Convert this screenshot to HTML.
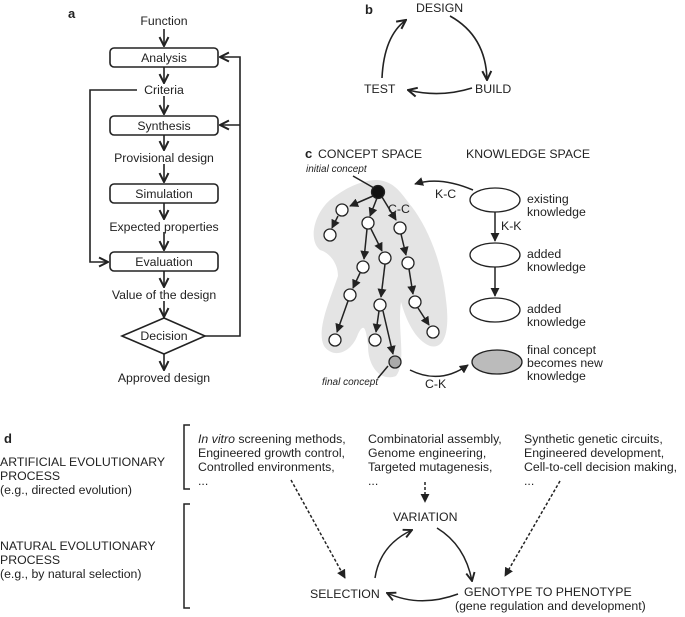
<!DOCTYPE html>
<html><head><meta charset="utf-8"><style>
body{margin:0;background:#fff}
svg{display:block;font-family:"Liberation Sans",Arial,sans-serif;font-size:12px;fill:#222}
</style></head><body>
<svg width="685" height="617" viewBox="0 0 685 617" xmlns="http://www.w3.org/2000/svg">
<defs>
<marker id="ar" viewBox="0 0 10 10" refX="9" refY="5" markerWidth="7" markerHeight="7" orient="auto-start-reverse"><path d="M1,1 L9,5 L1,9" fill="none" stroke="#222" stroke-width="1.8"/></marker>
<marker id="af" viewBox="0 0 10 10" refX="9" refY="5" markerWidth="6" markerHeight="6" orient="auto"><path d="M0,0 L10,5 L0,10 Z" fill="#222"/></marker>
</defs>
<g stroke="#222" stroke-width="1.6" fill="none">
<rect x="110" y="48" width="108" height="19" rx="4"/>
<rect x="110" y="116" width="108" height="19" rx="4"/>
<rect x="110" y="184" width="108" height="19" rx="4"/>
<rect x="110" y="252" width="108" height="19" rx="4"/>
<path d="M122,336 L164,318 L205,336 L164,354 Z"/>
<path d="M164,29 V46" marker-end="url(#ar)"/>
<path d="M164,67 V83" marker-end="url(#ar)"/>
<path d="M164,96 V114" marker-end="url(#ar)"/>
<path d="M164,135 V150" marker-end="url(#ar)"/>
<path d="M164,164 V182" marker-end="url(#ar)"/>
<path d="M164,203 V219" marker-end="url(#ar)"/>
<path d="M164,232 V250" marker-end="url(#ar)"/>
<path d="M164,271 V287" marker-end="url(#ar)"/>
<path d="M164,301 V317" marker-end="url(#ar)"/>
<path d="M164,354 V370" marker-end="url(#ar)"/>
<path d="M205,336 H240 V57 H220" marker-end="url(#ar)"/>
<path d="M240,125 H220" marker-end="url(#ar)"/>
<path d="M137,90 H90 V262 H108" marker-end="url(#ar)"/>
<path d="M450,16 Q486,36 487,80" marker-end="url(#ar)"/>
<path d="M472,88 Q440,98 408,90" marker-end="url(#ar)"/>
<path d="M382,78 Q384,36 406,20" marker-end="url(#ar)"/>
</g>
<path d="M375,180 C395,180 402,195 412,207 C428,228 442,262 446,300 C450,330 445,350 430,346 C415,340 406,320 401,302 C397,330 407,362 396,376 C380,382 368,366 368,346 C366,328 364,322 358,334 C352,352 334,360 324,346 C316,330 330,300 338,276 C338,262 328,252 320,250 C308,240 314,214 330,200 C345,188 360,181 375,180 Z" fill="#e4e4e4"/>
<g stroke="#222" stroke-width="1.5" fill="none">
<path d="M353,176 L374,188"/>
<path d="M373,196 L350,206" marker-end="url(#af)"/>
<path d="M377,198 L370,216" marker-end="url(#af)"/>
<path d="M382,197 L396,220" marker-end="url(#af)"/>
<path d="M338,216 L332,228" marker-end="url(#af)"/>
<path d="M367,229 L364,259" marker-end="url(#af)"/>
<path d="M371,229 L382,251" marker-end="url(#af)"/>
<path d="M401,234 L406,255" marker-end="url(#af)"/>
<path d="M360,273 L353,288" marker-end="url(#af)"/>
<path d="M385,264 L381,297" marker-end="url(#af)"/>
<path d="M409,269 L413,294" marker-end="url(#af)"/>
<path d="M348,301 L337,332" marker-end="url(#af)"/>
<path d="M379,311 L376,332" marker-end="url(#af)"/>
<path d="M383,311 L393,354" marker-end="url(#af)"/>
<path d="M418,308 L429,325" marker-end="url(#af)"/>
<path d="M473,190 Q440,176 415,184" marker-end="url(#af)"/>
<path d="M495,212 V241" marker-end="url(#af)"/>
<path d="M495,267 V296" marker-end="url(#af)"/>
<path d="M410,370 Q440,385 468,365" marker-end="url(#af)"/>
<path d="M388,366 L378,378"/>
</g>
<g stroke="#222" stroke-width="1.3" fill="#fff">
<circle cx="342" cy="210" r="6"/><circle cx="330" cy="235" r="6"/><circle cx="368" cy="223" r="6"/><circle cx="400" cy="228" r="6"/>
<circle cx="363" cy="267" r="6"/><circle cx="385" cy="258" r="6"/><circle cx="408" cy="263" r="6"/>
<circle cx="350" cy="295" r="6"/><circle cx="380" cy="305" r="6"/><circle cx="415" cy="302" r="6"/>
<circle cx="335" cy="340" r="6"/><circle cx="375" cy="340" r="6"/><circle cx="433" cy="332" r="6"/>
<circle cx="395" cy="362" r="6" fill="#aaa"/><circle cx="378" cy="192" r="6.5" fill="#111"/>
<ellipse cx="495" cy="200" rx="25" ry="12"/><ellipse cx="495" cy="255" rx="25" ry="12"/><ellipse cx="495" cy="310" rx="25" ry="12"/><ellipse cx="497" cy="362" rx="25" ry="12" fill="#bbb"/>
</g>
<g stroke="#222" stroke-width="1.5" fill="none">
<path d="M190,425 H184 V489 H190"/><path d="M190,504 H184 V608 H190"/>
<path d="M291,480 L345,578" stroke-dasharray="3,2" marker-end="url(#af)"/>
<path d="M425,482 V502" stroke-dasharray="3,2" marker-end="url(#af)"/>
<path d="M560,481 L505,576" stroke-dasharray="3,2" marker-end="url(#af)"/>
<path d="M375,578 Q380,545 412,530" marker-end="url(#ar)"/>
<path d="M437,528 Q465,545 472,581" marker-end="url(#ar)"/>
<path d="M458,594 Q420,608 387,593" marker-end="url(#ar)"/>
</g>
<g font-size="12.3">
<text x="68" y="18" font-weight="bold" font-size="13">a</text>
<text x="164" y="25" text-anchor="middle">Function</text>
<text x="164" y="62" text-anchor="middle">Analysis</text>
<text x="164" y="94" text-anchor="middle">Criteria</text>
<text x="164" y="130" text-anchor="middle">Synthesis</text>
<text x="164" y="162" text-anchor="middle">Provisional design</text>
<text x="164" y="198" text-anchor="middle">Simulation</text>
<text x="164" y="231" text-anchor="middle">Expected properties</text>
<text x="164" y="266" text-anchor="middle">Evaluation</text>
<text x="164" y="299" text-anchor="middle">Value of the design</text>
<text x="164" y="340" text-anchor="middle">Decision</text>
<text x="164" y="382" text-anchor="middle">Approved design</text>
<text x="365" y="14" font-weight="bold" font-size="13">b</text>
<text x="416" y="12">DESIGN</text>
<text x="364" y="93">TEST</text>
<text x="475" y="93">BUILD</text>
<text x="305" y="158" font-weight="bold" font-size="13">c</text>
<text x="318" y="158">CONCEPT SPACE</text>
<text x="466" y="158">KNOWLEDGE SPACE</text>
<text x="306" y="172" font-style="italic" font-size="10">initial concept</text>
<text x="322" y="385" font-style="italic" font-size="10">final concept</text>
<text x="435" y="198">K-C</text>
<text x="388" y="213">C-C</text>
<text x="501" y="230">K-K</text>
<text x="425" y="388">C-K</text>
<text x="527" y="203">existing</text><text x="527" y="216">knowledge</text>
<text x="527" y="258">added</text><text x="527" y="271">knowledge</text>
<text x="527" y="313">added</text><text x="527" y="326">knowledge</text>
<text x="527" y="354">final concept</text><text x="527" y="367">becomes new</text><text x="527" y="380">knowledge</text>
<text x="4" y="443" font-weight="bold" font-size="13">d</text>
<text x="0" y="466">ARTIFICIAL EVOLUTIONARY</text><text x="0" y="480">PROCESS</text><text x="0" y="494">(e.g., directed evolution)</text>
<text x="0" y="550">NATURAL EVOLUTIONARY</text><text x="0" y="564">PROCESS</text><text x="0" y="578">(e.g., by natural selection)</text>
<text x="198" y="443"><tspan font-style="italic">In vitro</tspan> screening methods,</text>
<text x="198" y="457">Engineered growth control,</text><text x="198" y="471">Controlled environments,</text><text x="198" y="485">...</text>
<text x="368" y="443">Combinatorial assembly,</text><text x="368" y="457">Genome engineering,</text><text x="368" y="471">Targeted mutagenesis,</text><text x="368" y="485">...</text>
<text x="524" y="443">Synthetic genetic circuits,</text><text x="524" y="457">Engineered development,</text><text x="524" y="471">Cell-to-cell decision making,</text><text x="524" y="485">...</text>
<text x="393" y="521">VARIATION</text>
<text x="310" y="598">SELECTION</text>
<text x="464" y="596">GENOTYPE TO PHENOTYPE</text>
<text x="455" y="610">(gene regulation and development)</text>
</g>
</svg>
</body></html>
